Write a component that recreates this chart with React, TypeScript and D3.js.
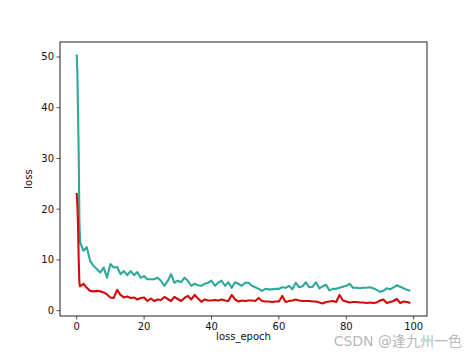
import * as d3 from 'd3';

// epochs: the first epoch is logged at sub-epoch steps, then one point per epoch
const subEpochs = [0, 0.2, 0.4, 0.6, 0.8];
const epochs = [...subEpochs, ...d3.range(1, 100)];

const trainLoss = [
  50.5, 47, 39, 31, 18,
  13.5, 11.8, 12.5, 9.8, 8.8, 8.2, 7.5, 8.5, 6.5, 9.2,
  8.5, 8.6, 7.2, 7.8, 7.0, 7.8, 7.0, 7.6, 6.5, 6.8,
  6.2, 6.2, 6.2, 6.5, 5.9, 4.9, 5.8, 7.2, 5.5, 5.9,
  5.6, 6.5, 5.9, 4.9, 5.3, 5.0, 4.9, 5.3, 5.5, 5.9,
  4.9, 5.5, 5.9, 4.9, 5.6, 4.5, 5.6, 5.3, 4.9, 5.5,
  5.5, 4.9, 4.6, 4.3, 3.9, 4.3, 4.2, 4.2, 4.3, 4.3,
  4.6, 4.5, 4.9, 4.2, 5.5, 4.6, 4.8, 5.6, 4.6, 4.7,
  5.6, 4.4, 4.8, 5.1, 4.0, 4.3, 4.3, 4.5, 4.7, 4.9,
  5.3, 4.5, 4.5, 4.4, 4.5, 4.5, 4.6, 4.4, 4.1, 3.7,
  3.9, 4.4, 4.2, 4.6, 5.0, 4.7, 4.4, 4.1, 3.9,
];

const valLoss = [
  23.2, 21, 17, 10, 5.5,
  4.8, 5.3, 4.5, 3.9, 3.8, 3.9, 3.8, 3.6, 3.2, 2.6,
  2.5, 4.1, 3.1, 2.6, 2.8, 2.5, 2.6, 2.2, 2.5, 2.6,
  1.9, 2.4, 1.9, 2.2, 2.1, 2.7, 2.3, 1.9, 2.7, 2.3,
  1.9, 2.5, 2.9, 2.2, 3.1, 2.4, 1.75, 2.2, 2.0, 2.0,
  2.1, 2.0, 2.2, 2.0, 1.9, 3.1, 2.2, 1.8, 2.0, 1.9,
  2.0, 2.0, 1.9, 2.5, 1.9, 1.8, 1.8, 1.7, 1.8, 1.8,
  2.9, 1.7, 1.9, 2.0, 2.2, 2.0, 1.9, 1.9, 1.9, 1.8,
  1.8, 1.6, 1.4, 1.7, 1.8, 1.9, 1.7, 3.1, 2.0, 1.8,
  1.6, 1.7, 1.7, 1.6, 1.6, 1.5, 1.6, 1.5, 1.6, 2.0,
  2.2, 1.5, 1.7, 1.9, 2.3, 1.5, 1.8, 1.7, 1.5,
];

const xTicks = [0, 20, 40, 60, 80, 100];
const yTicks = [0, 10, 20, 30, 40, 50];

const series = [
  { name: 'train', values: trainLoss, color: '#2ea89b' },
  { name: 'val', values: valLoss, color: '#d10a0a' },
];

const W = 474;
const H = 355;
const plot = { left: 60, right: 427, top: 42, bottom: 316 };
const font = 'DejaVu Sans, sans-serif';

export default function App() {
  // matplotlib-style 5% autoscale margins
  const [x0, x1] = d3.extent(epochs) as [number, number];
  const xPad = (x1 - x0) * 0.05;
  const all = [...trainLoss, ...valLoss];
  const [y0, y1] = d3.extent(all) as [number, number];
  const yPad = (y1 - y0) * 0.05;

  const x = d3.scaleLinear().domain([x0 - xPad, x1 + xPad]).range([plot.left, plot.right]);
  const y = d3.scaleLinear().domain([y0 - yPad, y1 + yPad]).range([plot.bottom, plot.top]);

  const line = d3
    .line<number>()
    .x((_, i) => x(epochs[i]))
    .y((d) => y(d));

  return (
    <svg
      width={W}
      height={H}
      style={{ position: 'absolute', left: 0, top: 0, background: '#fff' }}
      fontFamily={font}
    >
      <rect width={W} height={H} fill="#fff" />

      {series.map((s) => (
        <path
          key={s.name}
          d={line(s.values) as string}
          fill="none"
          stroke={s.color}
          strokeWidth={2.1}
          strokeLinejoin="round"
        />
      ))}

      {/* frame */}
      <rect
        x={plot.left}
        y={plot.top}
        width={plot.right - plot.left}
        height={plot.bottom - plot.top}
        fill="none"
        stroke="#222"
        strokeWidth={1}
      />

      {/* x ticks */}
      {xTicks.map((t) => (
        <g key={'x' + t} transform={`translate(${x(t)},${plot.bottom})`}>
          <line y2={3.5} stroke="#222" strokeWidth={0.8} />
          <text y={14} textAnchor="middle" fontSize={10} fill="#111">
            {t}
          </text>
        </g>
      ))}

      {/* y ticks */}
      {yTicks.map((t) => (
        <g key={'y' + t} transform={`translate(${plot.left},${y(t)})`}>
          <line x2={-3.5} stroke="#222" strokeWidth={0.8} />
          <text x={-6} dy="0.35em" textAnchor="end" fontSize={10} fill="#111">
            {t}
          </text>
        </g>
      ))}

      <text
        x={(plot.left + plot.right) / 2}
        y={340}
        textAnchor="middle"
        fontSize={10}
        fill="#111"
      >
        loss_epoch
      </text>
      <text
        transform={`translate(32,${(plot.top + plot.bottom) / 2}) rotate(-90)`}
        textAnchor="middle"
        fontSize={10}
        fill="#111"
      >
        loss
      </text>

      <text
        x={462}
        y={346}
        textAnchor="end"
        fontSize={14}
        fill="#b8b8b8"
        fontFamily="DejaVu Sans, Noto Sans CJK SC, sans-serif"
      >
        CSDN @逢九州一色
      </text>
    </svg>
  );
}
